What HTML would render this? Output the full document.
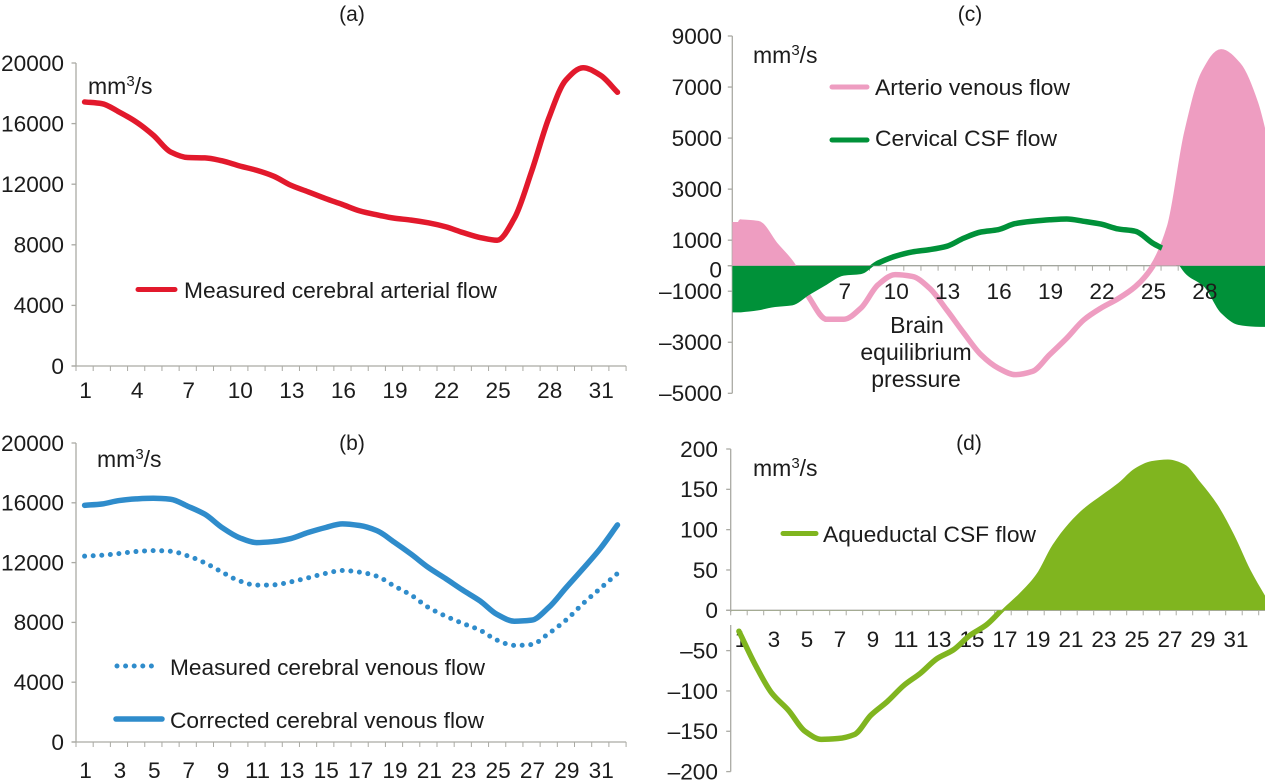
<!DOCTYPE html>
<html lang="en">
<head>
<meta charset="utf-8">
<title>Cerebral flow charts</title>
<style>
html,body{margin:0;padding:0;background:#fff;width:1265px;height:784px;overflow:hidden}
svg{display:block}
text{font-family:"Liberation Sans",sans-serif;font-size:22px;fill:#1c1c1c}
.title{font-size:21px}
.unit{font-size:23px}
.sup{font-size:15px}
.note{font-size:23px}
</style>
</head>
<body>
<svg id="figure" width="1265" height="784" viewBox="0 0 1265 784" xmlns="http://www.w3.org/2000/svg">
  <defs>
    <clipPath id="page-clip"><rect x="0" y="0" width="1265" height="784"/></clipPath>
  </defs>

  <text class="title" x="352" y="21" text-anchor="middle">(a)</text>
  <text class="title" x="352" y="450" text-anchor="middle">(b)</text>
  <text class="title" x="970" y="21" text-anchor="middle">(c)</text>
  <text class="title" x="969" y="450" text-anchor="middle">(d)</text>

  <text class="unit" x="88" y="94">mm<tspan class="sup" dy="-8">3</tspan><tspan dy="8">/s</tspan></text>
  <text class="unit" x="97" y="467">mm<tspan class="sup" dy="-8">3</tspan><tspan dy="8">/s</tspan></text>
  <text class="unit" x="753" y="63">mm<tspan class="sup" dy="-8">3</tspan><tspan dy="8">/s</tspan></text>
  <text class="unit" x="753" y="476">mm<tspan class="sup" dy="-8">3</tspan><tspan dy="8">/s</tspan></text>

  <g id="panel-a"></g>
  <g id="panel-b"></g>
  <g id="panel-c"></g>
  <g id="panel-d"></g>

  <g>
    <line x1="138" y1="289.5" x2="175" y2="289.5" stroke="#e2192c" stroke-width="5" stroke-linecap="round"/>
    <text x="184" y="298" textLength="313" lengthAdjust="spacingAndGlyphs">Measured cerebral arterial flow</text>
  </g>
  <g>
    <line x1="117" y1="666" x2="160" y2="666" stroke="#2f8ccb" stroke-width="5" stroke-linecap="round" stroke-dasharray="0 8.6"/>
    <text x="170" y="675" textLength="315" lengthAdjust="spacingAndGlyphs">Measured cerebral venous flow</text>
    <line x1="116" y1="719" x2="162" y2="719" stroke="#2f8ccb" stroke-width="5.5" stroke-linecap="round"/>
    <text x="170" y="728" textLength="314" lengthAdjust="spacingAndGlyphs">Corrected cerebral venous flow</text>
  </g>
  <g>
    <line x1="832" y1="87" x2="867" y2="87" stroke="#ee9dc1" stroke-width="5" stroke-linecap="round"/>
    <text x="875" y="95" textLength="195" lengthAdjust="spacingAndGlyphs">Arterio venous flow</text>
    <line x1="832" y1="140" x2="867" y2="140" stroke="#009139" stroke-width="5" stroke-linecap="round"/>
    <text x="875" y="146" textLength="182" lengthAdjust="spacingAndGlyphs">Cervical CSF flow</text>
  </g>
  <g>
    <line x1="783" y1="533.5" x2="816" y2="533.5" stroke="#80b51f" stroke-width="5" stroke-linecap="round"/>
    <text x="823" y="542" textLength="213" lengthAdjust="spacingAndGlyphs">Aqueductal CSF flow</text>
  </g>

  <g id="annotation">
    <text class="note" x="917" y="333" text-anchor="middle">Brain</text>
    <text class="note" x="916" y="360" text-anchor="middle">equilibrium</text>
    <text class="note" x="916" y="387" text-anchor="middle">pressure</text>
  </g>
</svg>

<script>
// Chart data
const categoryCountA = 32;
const arterialFlow = [17430,17320,16770,16110,15230,14130,13760,13740,13540,13210,12920,12530,11930,11500,11060,10660,10240,9980,9760,9630,9450,9190,8810,8480,8300,9750,12830,16350,18880,19690,19200,18070];
const measuredVenousFlow = [12430,12490,12600,12740,12800,12760,12450,11980,11360,10780,10490,10510,10710,10980,11270,11470,11360,11090,10440,9820,9000,8420,7930,7480,6810,6460,6520,7260,8150,9260,10270,11270];
const correctedVenousFlow = [15830,15920,16150,16260,16300,16240,15770,15230,14340,13670,13340,13410,13610,14010,14340,14590,14480,14140,13380,12560,11670,10930,10160,9440,8530,8080,8150,9000,10310,11600,12940,14520];
const arterioVenousFlow = [1710,1650,825,40,-1270,-2100,-2100,-1660,-745,-350,-420,-880,-1730,-2640,-3490,-4010,-4270,-4140,-3490,-2840,-2120,-1660,-1290,-820,-40,1530,5200,7550,8380,7870,6380,3630];
const cervicalCsfFlow = [-1830,-1750,-1620,-1555,-1140,-745,-390,-330,100,370,540,630,760,1080,1320,1410,1650,1740,1800,1830,1740,1630,1440,1350,890,500,-365,-820,-1860,-2320,-2390,-2400];
const aqueductalFlow = [-26,-68,-103,-124,-150,-160,-159,-154,-130,-113,-93,-78,-60,-49,-31,-18,2,21,44,81,108,128,143,158,176,185,187,181,158,131,94,50,14];

// Tick labels
const yTicksA = [0,4000,8000,12000,16000,20000];
const xTicksA = [1,4,7,10,13,16,19,22,25,28,31];
const yTicksB = [0,4000,8000,12000,16000,20000];
const xTicksB = [1,3,5,7,9,11,13,15,17,19,21,23,25,27,29,31];
const yTicksC = [-5000,-3000,-1000,0,1000,3000,5000,7000,9000];
const xTicksC = [7,10,13,16,19,22,25,28];
const yTicksD = [-200,-150,-100,-50,0,50,100,150,200];
const xTicksD = [1,3,5,7,9,11,13,15,17,19,21,23,25,27,29,31];

const SVGNS = 'http://www.w3.org/2000/svg';
const AXIS_COLOR = '#aaaaa4';

function make(tag, parent, name) {
  const el = document.createElementNS(SVGNS, tag);
  
  
  parent.appendChild(el);
  return el;
}

function linearScale(domainA, rangeA, domainB, rangeB) {
  return function (v) { return rangeA + (v - domainA) * (rangeB - rangeA) / (domainB - domainA); };
}

// Monotone cubic segments through the points, so peaks do not overshoot.
function smoothSegments(points) {
  const n = points.length;
  const slopes = [];
  for (let i = 0; i < n - 1; i++) {
    slopes.push((points[i + 1][1] - points[i][1]) / (points[i + 1][0] - points[i][0]));
  }
  const tangents = [slopes[0]];
  for (let i = 1; i < n - 1; i++) {
    const a = slopes[i - 1], b = slopes[i];
    tangents.push(a * b <= 0 ? 0 : 2 * a * b / (a + b));
  }
  tangents.push(slopes[n - 2]);
  let d = '';
  for (let i = 0; i < n - 1; i++) {
    const dx = (points[i + 1][0] - points[i][0]) / 3;
    d += 'C' + (points[i][0] + dx).toFixed(2) + ' ' + (points[i][1] + tangents[i] * dx).toFixed(2) + ' ' +
         (points[i + 1][0] - dx).toFixed(2) + ' ' + (points[i + 1][1] - tangents[i + 1] * dx).toFixed(2) + ' ' +
         points[i + 1][0].toFixed(2) + ' ' + points[i + 1][1].toFixed(2);
  }
  return d;
}

function seriesPoints(values, x, y) {
  return values.map(function (v, i) { return [x(i + 1), y(v)]; });
}

function formatTick(v) { return v < 0 ? '\u2013' + Math.abs(v) : String(v); }

function drawLeftAxis(g, prefix, x0, y, ticks, labelRight, gapTop, gapBottom) {
  const top = y(Math.max.apply(null, ticks)), bottom = y(Math.min.apply(null, ticks));
  const segs = gapTop ? [[top, gapTop], [gapBottom, bottom]] : [[top, bottom]];
  segs.forEach(function (s) {
    const axis = make('line', g, prefix + '-y-axis');
    axis.setAttribute('x1', x0); axis.setAttribute('x2', x0);
    axis.setAttribute('y1', s[0]); axis.setAttribute('y2', s[1]);
    axis.setAttribute('stroke', AXIS_COLOR); axis.setAttribute('stroke-width', '1.3');
  });
  ticks.forEach(function (t) {
    const tick = make('line', g, prefix + '-y-tick');
    tick.setAttribute('x1', x0 - 4.5); tick.setAttribute('x2', x0);
    tick.setAttribute('y1', y(t)); tick.setAttribute('y2', y(t));
    tick.setAttribute('stroke', AXIS_COLOR); tick.setAttribute('stroke-width', '1.3');
    const label = make('text', g, prefix + '-y-tick-label');
    const str = formatTick(t);
    label.setAttribute('x', labelRight);
    const bump = (prefix === 'panel-c' && t === 0) ? 4 : 0;
    label.setAttribute('y', y(t) + 7.8 + bump);
    label.setAttribute('text-anchor', 'end');
    label.setAttribute('textLength', (str.length * 12.6).toFixed(1));
    label.setAttribute('lengthAdjust', 'spacingAndGlyphs');
    label.textContent = str;
  });
}

function drawBottomAxis(g, prefix, x0, x1, y0, step) {
  const axis = make('line', g, prefix + '-x-axis');
  axis.setAttribute('x1', x0 - 4.5); axis.setAttribute('x2', x1);
  axis.setAttribute('y1', y0); axis.setAttribute('y2', y0);
  axis.setAttribute('stroke', AXIS_COLOR); axis.setAttribute('stroke-width', '1.3');
  for (let tx = x0; tx <= x1 + 0.5; tx += step) {
    const tick = make('line', g, prefix + '-x-tick');
    tick.setAttribute('x1', tx); tick.setAttribute('x2', tx);
    tick.setAttribute('y1', y0); tick.setAttribute('y2', y0 + 5);
    tick.setAttribute('stroke', AXIS_COLOR); tick.setAttribute('stroke-width', '1');
  }
}

function drawXLabels(g, prefix, x, ticks, labelY, labelShift) {
  ticks.forEach(function (t) {
    const label = make('text', g, prefix + '-x-tick-label');
    const str = String(t);
    label.setAttribute('x', x(t) + labelShift);
    label.setAttribute('y', labelY);
    label.setAttribute('text-anchor', 'middle');
    label.setAttribute('textLength', (str.length * 12.6).toFixed(1));
    label.setAttribute('lengthAdjust', 'spacingAndGlyphs');
    label.textContent = str;
  });
}

function drawLine(g, name, values, x, y, color, width, dash) {
  const pts = seriesPoints(values, x, y);
  const path = make('path', g, name);
  path.setAttribute('d', 'M' + pts[0][0].toFixed(2) + ' ' + pts[0][1].toFixed(2) + smoothSegments(pts));
  path.setAttribute('fill', 'none');
  path.setAttribute('stroke', color);
  path.setAttribute('stroke-width', width);
  path.setAttribute('stroke-linecap', 'round');
  path.setAttribute('stroke-linejoin', 'round');
  if (dash) path.setAttribute('stroke-dasharray', dash);
  return path;
}

function addClip(id, x, yTop, w, h) {
  const defs = document.querySelector('#figure defs');
  const clip = document.createElementNS(SVGNS, 'clipPath');
  clip.setAttribute('id', id);
  const rect = document.createElementNS(SVGNS, 'rect');
  rect.setAttribute('x', x); rect.setAttribute('y', yTop);
  rect.setAttribute('width', w); rect.setAttribute('height', h);
  clip.appendChild(rect);
  defs.appendChild(clip);
}

function drawArea(g, name, values, x, y, color, startEdge, clipId) {
  const y0 = y(0);
  const pts = seriesPoints(values, x, y);
  const last = pts[pts.length - 1];
  const d = 'M' + startEdge + ' ' + y0 + 'L' + startEdge + ' ' + pts[0][1].toFixed(2) +
            'L' + pts[0][0].toFixed(2) + ' ' + pts[0][1].toFixed(2) + smoothSegments(pts) +
            'L' + last[0].toFixed(2) + ' ' + y0 + 'Z';
  const path = make('path', g, name);
  path.setAttribute('d', d);
  path.setAttribute('fill', color);
  path.setAttribute('clip-path', 'url(#' + clipId + ')');
  return path;
}

/* Panel (a) */
(function () {
  const g = document.getElementById('panel-a');
  const x0 = 76, step = 17.19;
  const x = linearScale(1, x0 + step / 2, 32, x0 + step * 31.5);
  const y = linearScale(0, 366, 20000, 63);
  drawLeftAxis(g, 'panel-a', x0, y, yTicksA, 64);
  drawBottomAxis(g, 'panel-a', x0, x0 + step * categoryCountA, 366, step);
  drawXLabels(g, 'panel-a', x, xTicksA, 398, 1);
  drawLine(g, 'arterial-flow-line', arterialFlow, x, y, '#e2192c', 5.5);
})();

/* Panel (b) */
(function () {
  const g = document.getElementById('panel-b');
  const x0 = 76, step = 17.19;
  const x = linearScale(1, x0 + step / 2, 32, x0 + step * 31.5);
  const y = linearScale(0, 742, 20000, 443);
  drawLeftAxis(g, 'panel-b', x0, y, yTicksB, 64);
  drawBottomAxis(g, 'panel-b', x0, x0 + step * categoryCountA, 742, step);
  drawXLabels(g, 'panel-b', x, xTicksB, 778, 1);
  drawLine(g, 'measured-venous-flow-line', measuredVenousFlow, x, y, '#2f8ccb', 5, '0 8.6');
  drawLine(g, 'corrected-venous-flow-line', correctedVenousFlow, x, y, '#2f8ccb', 5.5);
})();

/* Panel (c) */
(function () {
  const g = document.getElementById('panel-c');
  const x0 = 732.3, step = 17.15;
  const x = linearScale(1, x0 + step / 2, 32, x0 + step * 31.5);
  const y = linearScale(0, 265.7, 9000, 36);
  const y0 = y(0);
  addClip('c-above-zero', x0, 0, 1265 - x0, y0);
  addClip('c-below-zero', x0, y0, 1265 - x0, 784 - y0);
  drawLeftAxis(g, 'panel-c', x0, y, yTicksC, 722);
  drawBottomAxis(g, 'panel-c', x0, 1265, y0, step);
  drawLine(g, 'arterio-venous-flow-line', arterioVenousFlow, x, y, '#ee9dc1', 5.5);
  drawArea(g, 'cervical-csf-flow-area', cervicalCsfFlow, x, y, '#009139', x0, 'c-below-zero');
  drawLine(g, 'cervical-csf-flow-line', cervicalCsfFlow, x, y, '#009139', 5.5).setAttribute('clip-path', 'url(#c-above-zero)');
  drawArea(g, 'arterio-venous-flow-area', arterioVenousFlow, x, y, '#ee9dc1', x0, 'c-above-zero');
  drawXLabels(g, 'panel-c', x, xTicksC, 299, 1);
})();

/* Panel (d) */
(function () {
  const g = document.getElementById('panel-d');
  const x0 = 730.7, step = 16.5;
  const x = linearScale(1, x0 + step / 2, 33, x0 + step * 32.5);
  const y = linearScale(0, 610.3, 200, 449);
  const y0 = y(0);
  addClip('d-above-zero', x0, 0, 1265 - x0, y0);
  addClip('d-below-zero', 0, y0, 1265, 784 - y0);
  drawLeftAxis(g, 'panel-d', x0, y, yTicksD, 718, 612, 625);
  drawBottomAxis(g, 'panel-d', x0, 1265, y0, step);
  drawXLabels(g, 'panel-d', x, xTicksD, 647, 2);
  drawArea(g, 'aqueductal-flow-area', aqueductalFlow, x, y, '#80b51f', x0, 'd-above-zero');
  drawLine(g, 'aqueductal-flow-line', aqueductalFlow, x, y, '#80b51f', 5.5).setAttribute('clip-path', 'url(#d-below-zero)');
})();
</script>
</body>
</html>
